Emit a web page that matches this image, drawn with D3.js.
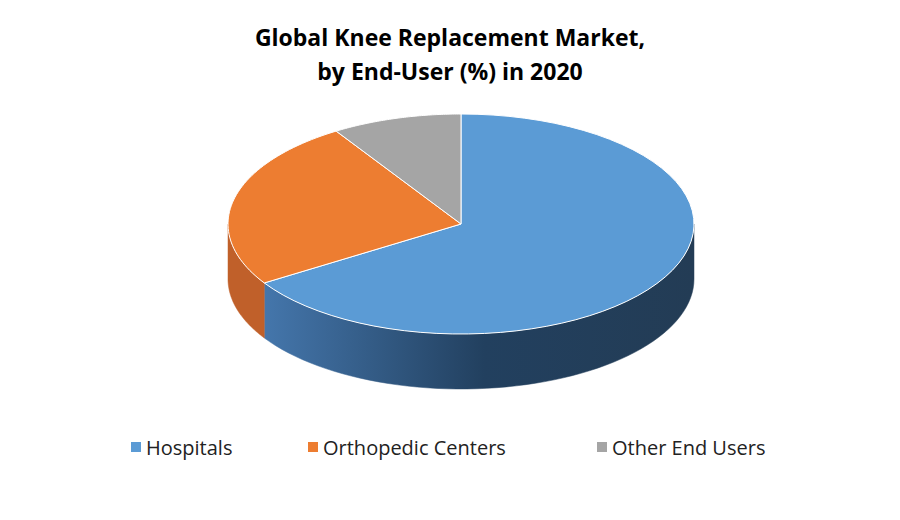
<!DOCTYPE html>
<html><head><meta charset="utf-8">
<script src="https://cdn.jsdelivr.net/npm/d3@7"></script>
<style>body{margin:0;background:#fff}</style>
</head><body>
<svg id="chart" width="900" height="520"></svg>
<script>
const categories = ['Hospitals', 'Orthopedic Centers', 'Other End Users'];
const shares = [66, 25, 9];
const topColors = ['#5b9bd5', '#ed7d31', '#a5a5a5'];
const sideColors = ['url(#blueSide)', '#c0602a', '#7f7f7f'];

const svg = d3.select('#chart');
const cx = 461, cy = 224, rx = 233, ry = 110, depth = 55;

const defs = svg.append('defs');
const g = defs.append('linearGradient').attr('id', 'blueSide')
  .attr('gradientUnits', 'userSpaceOnUse')
  .attr('x1', cx - rx).attr('x2', cx + rx).attr('y1', 0).attr('y2', 0);
g.append('stop').attr('offset', '0').attr('stop-color', '#4a7fb8');
g.append('stop').attr('offset', '0.55').attr('stop-color', '#22405f');
g.append('stop').attr('offset', '1').attr('stop-color', '#233c55');

const pie = d3.pie().sort(null).value(d => d)(shares);
const pt = (a, dy = 0) => [cx + rx * Math.sin(a), cy - ry * Math.cos(a) + dy];

function arcPts(a0, a1, dy) {
  const n = 60, out = [];
  for (let i = 0; i <= n; i++) out.push(pt(a0 + (a1 - a0) * i / n, dy));
  return out;
}

// side walls (front half only)
pie.forEach((s, i) => {
  const a0 = Math.max(s.startAngle, Math.PI / 2), a1 = Math.min(s.endAngle, 3 * Math.PI / 2);
  if (a1 <= a0) return;
  const pts = arcPts(a0, a1, 0).concat(arcPts(a1, a0, depth));
  svg.append('path').attr('d', d3.line()(pts) + 'Z')
    .attr('fill', sideColors[i]).attr('stroke', sideColors[i]).attr('stroke-width', 0.5);
});

// top faces
pie.forEach((s, i) => {
  const pts = [[cx, cy]].concat(arcPts(s.startAngle, s.endAngle, 0));
  svg.append('path').attr('d', d3.line()(pts) + 'Z')
    .attr('fill', topColors[i]).attr('stroke', '#fff').attr('stroke-width', 1);
});

// title
svg.append('text').attr('x', 450).attr('y', 46).attr('text-anchor', 'middle')
  .attr('font-family', 'Open Sans, sans-serif').attr('font-weight', 'bold').attr('font-size', 23)
  .selectAll('tspan').data(['Global Knee Replacement Market,', 'by End-User (%) in 2020']).join('tspan')
  .attr('x', 450).attr('dy', (d, i) => i ? 34 : 0).text(d => d);

// legend
const legendX = d3.scalePoint().domain(categories).range([131, 597]);
const lg = svg.append('g').selectAll('g').data(categories).join('g')
  .attr('transform', (d, i) => `translate(${[131, 308, 597][i]},448)`);
lg.append('rect').attr('x', 0).attr('y', -6).attr('width', 10).attr('height', 10)
  .attr('fill', (d, i) => topColors[i]);
lg.append('text').attr('x', 15).attr('y', 7).text(d => d)
  .attr('font-family', 'Open Sans, sans-serif').attr('font-size', 20).attr('fill', '#222');
</script>
</body></html>
